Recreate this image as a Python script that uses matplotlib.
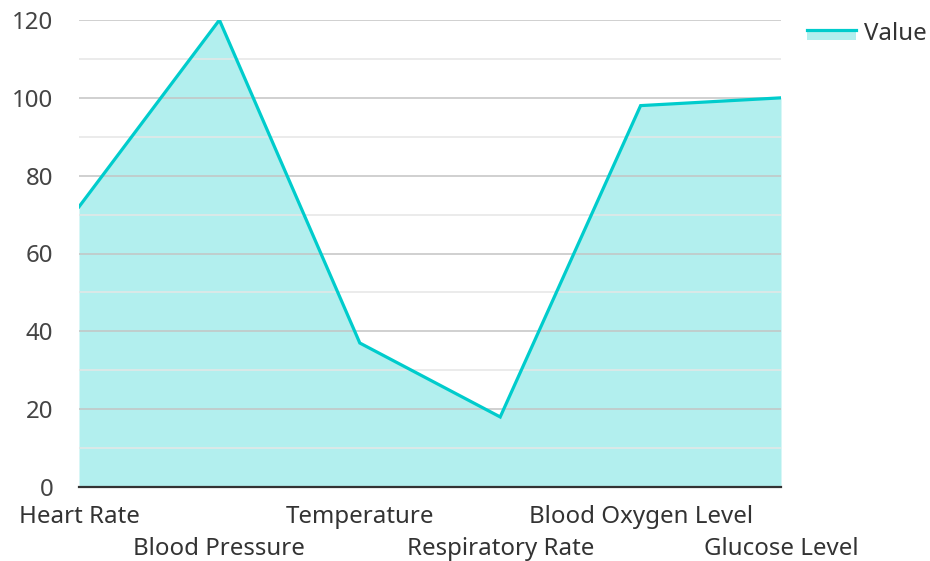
import matplotlib
matplotlib.use("Agg")
import matplotlib.pyplot as plt
from matplotlib.patches import Rectangle
from matplotlib.lines import Line2D
from matplotlib.legend_handler import HandlerBase

categories = ["Heart Rate", "Blood Pressure", "Temperature", "Respiratory Rate",
              "Blood Oxygen Level", "Glucose Level"]
values = [72, 120, 37, 18, 98, 100]
series_name = "Value"
y_ticks = [0, 20, 40, 60, 80, 100, 120]

plt.rcParams['font.family'] = ['Noto Sans', 'DejaVu Sans']

LINE = "#00cccc"
FILL = "#b2efee"
FS = 17.3

fig = plt.figure(figsize=(9.3, 5.61), dpi=100)
ax = fig.add_axes([79/930, 1-487/561, (781-79)/930, (487-20)/561])

x = list(range(len(categories)))
ax.fill_between(x, values, 0, color=FILL, zorder=1, linewidth=0)
ax.plot(x, values, color=LINE, lw=2.3, zorder=3, solid_joinstyle='miter')

ax.set_xlim(0, len(categories) - 1)
ax.set_ylim(0, 120)
ax.set_yticks(y_ticks)
ax.set_yticks(range(10, 120, 20), minor=True)
ax.grid(axis='y', which='major', color='#c4c4c4', lw=1.1, zorder=2)
ax.grid(axis='y', which='minor', color='#e6e6e6', lw=1.1, zorder=0)
ax.set_axisbelow(False)

ax.set_xticks(x[0::2])
ax.set_xticklabels(categories[0::2])
ax.set_xticks(x[1::2], minor=True)
ax.set_xticklabels(categories[1::2], minor=True)
ax.tick_params(axis='x', which='major', length=0, pad=13, labelsize=FS, labelcolor='#333333')
ax.tick_params(axis='x', which='minor', length=0, pad=36, labelsize=FS, labelcolor='#333333')
ax.tick_params(axis='y', which='both', length=0, pad=18.5, labelsize=FS, labelcolor='#444444')

for s in ['left', 'right', 'top']:
    ax.spines[s].set_visible(False)
ax.spines['bottom'].set_color('#333333')
ax.spines['bottom'].set_linewidth(1.6)
ax.spines['bottom'].set_zorder(4)


class AreaHandler(HandlerBase):
    def create_artists(self, legend, orig_handle, xdescent, ydescent, width, height, fontsize, trans):
        r = Rectangle((-xdescent, -ydescent), width, height * 0.6, facecolor=FILL,
                      edgecolor='none', transform=trans)
        l = Line2D([-xdescent, -xdescent + width], [-ydescent + height * 0.6] * 2,
                   color=LINE, lw=2.3, transform=trans)
        return [r, l]


proxy = Rectangle((0, 0), 1, 1)
leg = fig.legend([proxy], [series_name], handler_map={Rectangle: AreaHandler()},
                 loc='upper left', bbox_to_anchor=(807/930, 1-22/561), frameon=False,
                 fontsize=FS, handlelength=2.05, handleheight=0.7, handletextpad=0.33,
                 borderpad=0, borderaxespad=0)
for t in leg.get_texts():
    t.set_color('#333333')

fig.savefig("out.png", dpi=100)
